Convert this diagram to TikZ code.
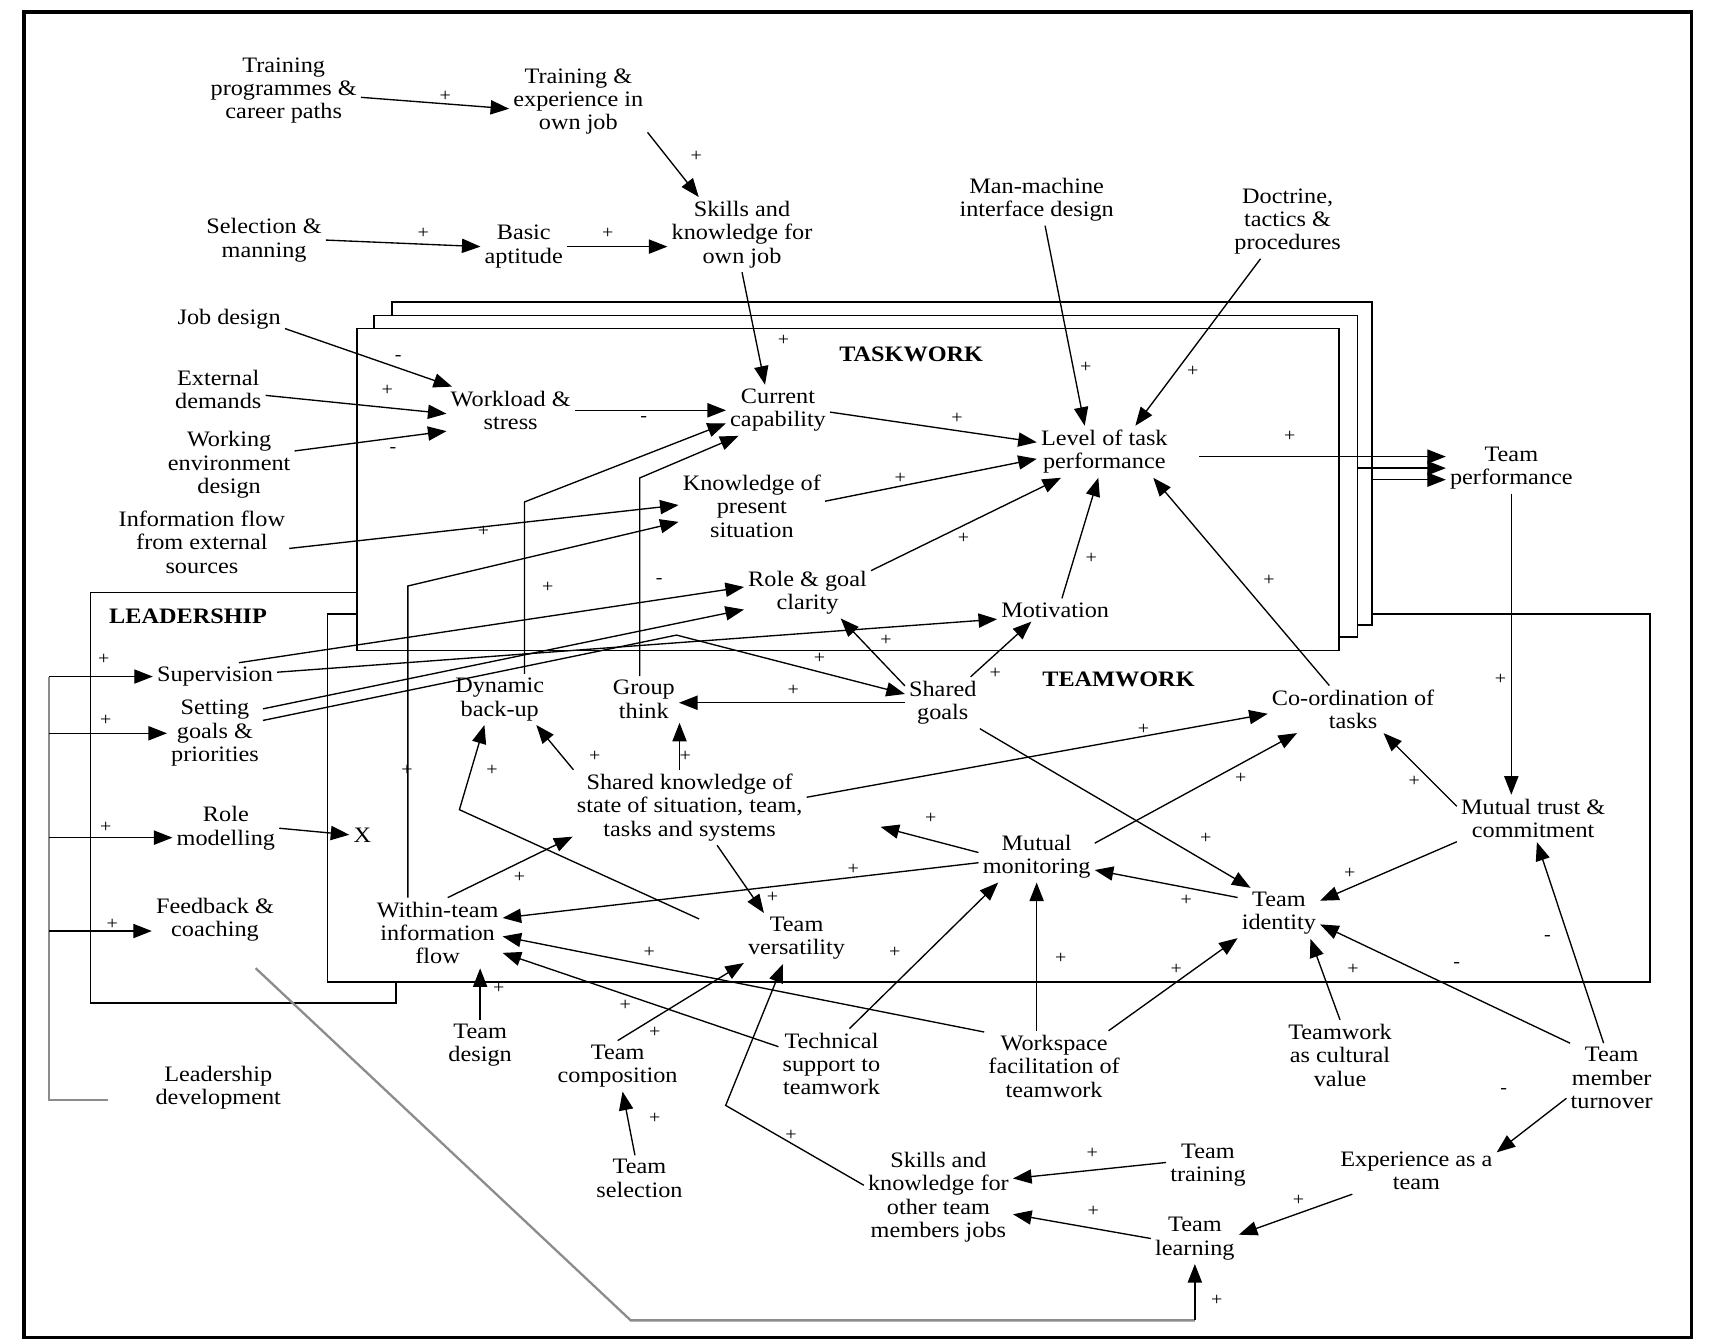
\documentclass[tikz,border=0pt]{standalone}
\usepackage{fontspec}
\setmainfont{Liberation Serif}[FakeStretch=1.1]
\usetikzlibrary{arrows.meta}
\newcommand{\nodefont}{\fontsize{11.5}{12.2}\selectfont}

\begin{document}
\begin{tikzpicture}[x=0.02cm, y=-0.02cm,
    lbl/.style={align=center, inner sep=2pt, font=\nodefont},
    head/.style={font=\nodefont\bfseries, inner sep=1pt},
    sgn/.style={font=\fontsize{9.5}{9.5}\selectfont, inner sep=0pt},
    arr/.style={-{Triangle[length=0.34cm,width=0.26cm]}, line width=0.7pt},
    gline/.style={draw=black!45, line width=1.2pt},
    box/.style={draw, line width=0.9pt, fill=white}]
    \useasboundingbox (0,0) rectangle (1568,1231);

    % Frames
    \draw[box] (83,543) rectangle (363,919);
    \draw[box] (300,563) rectangle (1512,900);
    \draw[box] (359,277) rectangle (1257,573);
    \draw[box] (343,289) rectangle (1244,584);
    \draw[box] (327,301) rectangle (1227,596);
    \draw[line width=1.6pt] (22,11) rectangle (1550,1226);
    \coordinate (twmid) at (1244,432);
    \coordinate (twback) at (1257,444);
    \coordinate (lbar) at (45,620);
    \coordinate (fbend) at (578,1210);
    \coordinate (wbend) at (365,537);
    \coordinate (dbend) at (488,460);
    \coordinate (gbend) at (583,438);
    \coordinate (sbend) at (620,582);
    \coordinate (vbend) at (421,742);
    \coordinate (kbend) at (665,1013);

    % Headings
    \node[head, anchor=west] (hlead) at (98,565) {LEADERSHIP};
    \node[head] (htask) at (835,325) {TASKWORK};
    \node[head] (hteam) at (1025,623) {TEAMWORK};

    % Factors
    \node[lbl] (tprog) at (260,83) {Training\\programmes \&\\career paths};
    \node[lbl] (texp) at (530,93) {Training \&\\experience in\\own job};
    \node[lbl] (skown) at (680,215) {Skills and\\knowledge for\\own job};
    \node[lbl] (selman) at (242,220) {Selection \&\\manning};
    \node[lbl] (basic) at (480,226) {Basic\\aptitude};
    \node[lbl] (mmi) at (950,183) {Man-machine\\interface design};
    \node[lbl] (doct) at (1180,203) {Doctrine,\\tactics \&\\procedures};
    \node[lbl] (jobd) at (210,293) {Job design};
    \node[lbl] (extd) at (200,357) {External\\demands};
    \node[lbl] (wload) at (468,376) {Workload \&\\stress};
    \node[lbl] (curcap) at (713,376) {Current\\capability};
    \node[lbl] (wenv) at (210,426) {Working\\environment\\design};
    \node[lbl] (ltask) at (1012,414) {Level of task\\performance};
    \node[lbl] (tperf) at (1385,429) {Team\\performance};
    \node[lbl] (infext) at (185,497) {Information flow\\from external\\sources};
    \node[lbl] (know) at (689,464) {Knowledge of\\present\\situation};
    \node[lbl] (role) at (740,543) {Role \& goal\\clarity};
    \node[lbl] (motiv) at (967,559) {Motivation};
    \node[lbl] (sup) at (197,620) {Supervision};
    \node[lbl] (setg) at (197,672) {Setting\\goals \&\\priorities};
    \node[lbl] (dyn) at (458,641) {Dynamic\\back-up};
    \node[lbl] (gthink) at (590,641) {Group\\think};
    \node[lbl] (sgoals) at (864,644) {Shared\\goals};
    \node[lbl] (coord) at (1240,650) {Co-ordination of\\tasks};
    \node[lbl] (shk) at (632,740) {Shared knowledge of\\state of situation, team,\\tasks and systems};
    \node[lbl] (rolem) at (207,759) {Role\\modelling};
    \node[lbl] (xnode) at (332,765) {X};
    \node[lbl] (mmon) at (950,785) {Mutual\\monitoring};
    \node[lbl] (mtrust) at (1405,750) {Mutual trust \&\\commitment};
    \node[lbl] (feed) at (197,843) {Feedback \&\\coaching};
    \node[lbl] (wtif) at (401,855) {Within-team\\information\\flow};
    \node[lbl] (tvers) at (730,860) {Team\\versatility};
    \node[lbl] (tid) at (1172,837) {Team\\identity};
    \node[lbl] (tdes) at (440,958) {Team\\design};
    \node[lbl] (tcomp) at (566,977) {Team\\composition};
    \node[lbl] (tsup) at (762,975) {Technical\\support to\\teamwork};
    \node[lbl] (wsp) at (966,977) {Workspace\\facilitation of\\teamwork};
    \node[lbl] (tcult) at (1228,967) {Teamwork\\as cultural\\value};
    \node[lbl] (tturn) at (1477,988) {Team\\member\\turnover};
    \node[lbl] (ldev) at (200,997) {Leadership\\development};
    \node[lbl] (tsel) at (586,1080) {Team\\selection};
    \node[lbl] (skoth) at (860,1097) {Skills and\\knowledge for\\other team\\members jobs};
    \node[lbl] (ttrain) at (1107,1068) {Team\\training};
    \node[lbl] (expt) at (1298,1073) {Experience as a\\team};
    \node[lbl] (tlearn) at (1095,1135) {Team\\learning};

    % Taskwork links
    \draw[arr] (tprog.-5) -- (texp.186);
    \draw[arr] (texp.-24) -- (skown.139);
    \draw[arr] (selman.east) -- (basic.west);
    \draw[arr] (basic.east) -- (skown.west |- basic.east);
    \draw[arr] (skown.south) -- (curcap.117);
    \draw[arr] (jobd.-9) -- (wload.158);
    \draw[arr] (extd.-7) -- (wload.183);
    \draw[arr] (wenv.12) -- (wload.198);
    \draw[arr] (wload.east) -- (curcap.west);
    \draw[arr] (curcap.-2) -- (ltask.172);
    \draw[arr] (mmi.-72) -- (ltask.127);
    \draw[arr] (doct.234) -- (ltask.40);
    \draw[arr] (know.4) -- (ltask.186);
    \draw[arr] (role.19) -- (ltask.211);
    \draw[arr] (motiv.60) -- (ltask.257);
    \draw[arr] (coord.135) -- (ltask.-28);
    \draw[arr, shorten <=0.5cm] (ltask.east |- tperf.170) -- (tperf.170);
    \draw[arr] (twmid |- tperf.west) -- (tperf.west);
    \draw[arr] (twback |- tperf.190) -- (tperf.190);
    \draw[arr] (tperf.south) -- (tperf.south |- mtrust.north);
    \draw[arr] (infext.-4) -- (know.179);
    \draw[arr] (wtif.130) -- (wtif.130 |- wbend) -- (know.192);
    \draw[arr] (dyn.46) -- (dyn.46 |- dbend) -- (curcap.194);
    \draw[arr] (gthink.100) -- (gthink.100 |- gbend) -- (curcap.213);

    % Leadership links
    \draw[gline, shorten <=0.8cm] (ldev.190) -- (lbar |- ldev.190) -- (lbar);
    \draw[arr] (lbar) -- (sup.west);
    \draw[arr] (lbar |- setg.west) -- (setg.west);
    \draw[arr] (lbar |- rolem.190) -- (rolem.190);
    \draw[arr] (lbar |- feed.190) -- (feed.190);
    \draw[arr] (rolem.east) -- (xnode.west);
    \draw[arr] (sup.30) -- (role.175);
    \draw[arr] (sup.4) -- (motiv.189);
    \draw[arr] (setg.27) -- (role.195);
    \draw[arr] (setg.15) -- (sbend) -- (sgoals.167);
    \draw[gline, shorten <=0.6cm] (feed.-57) -- (fbend) -- (fbend -| tlearn.south);
    \draw[arr] (fbend -| tlearn.south) -- (tlearn.south);

    % Teamwork links
    \draw[arr] (sgoals.west) -- (sgoals.west -| gthink.east);
    \draw[arr] (sgoals.156) -- (role.-38);
    \draw[arr] (sgoals.43) -- (motiv.206);
    \draw[arr] (sgoals.-35) -- (tid.138);
    \draw[arr] (shk.162) -- (dyn.-35);
    \draw[arr] (shk.105) -- (shk.105 |- gthink.south);
    \draw[arr] (shk.5) -- (coord.183);
    \draw[arr] (wtif.74) -- (shk.194);
    \draw[arr, shorten <=0.9cm] (tvers.181) -- (vbend) -- (dyn.239);
    \draw[arr, shorten >=1.4cm] (mmon.176) -- (shk.east);
    \draw[arr] (mmon.186) -- (wtif.13);
    \draw[arr] (mmon.13) -- (coord.203);
    \draw[arr] (shk.-54) -- (tvers.142);
    \draw[arr] (tid.159) -- (mmon.-13);
    \draw[arr] (mtrust.171) -- (coord.-38);
    \draw[arr] (mtrust.197) -- (tid.17);
    \draw[arr] (wsp.north -| mmon.south) -- (mmon.south);
    \draw[arr] (tsup.63) -- (mmon.214);
    \draw[arr] (wsp.33) -- (tid.211);
    \draw[arr] (tcult.north) -- (tid.-39);
    \draw[arr] (tturn.140) -- (tid.-15);
    \draw[arr] (tturn.103) -- (mtrust.-81);
    \draw[arr] (tturn.204) -- (expt.13);
    \draw[arr] (expt.200) -- (tlearn.5);
    \draw[arr] (ttrain.176) -- (skoth.14);
    \draw[arr] (tlearn.180) -- (skoth.-13);
    \draw[arr] (skoth.171) -- (kbend) -- (tvers.242);
    \draw[arr] (tcomp.north) -- (tvers.205);
    \draw[arr] (tdes.north) -- (tdes.north |- wtif.south);
    \draw[arr] (tsup.162) -- (wtif.-17);
    \draw[arr] (wsp.154) -- (wtif.-3);
    \draw[arr] (tsel) -- (tcomp);

    % Signs
    \foreach \x/\y/\s [count=\i] in {408/88/+, 638/143/+, 388/214/+, 557/214/+,
        718/312/+, 365/328/-, 355/358/+, 360/412/-, 590/384/-, 877/383/+,
        995/337/+, 1093/340/+, 825/438/+, 883/493/+, 1000/512/+, 1163/532/+,
        1182/400/+, 1375/623/+, 443/487/+, 373/706/+, 502/538/+, 604/532/-,
        751/603/+, 812/587/+, 727/633/+, 912/617/+, 1105/768/+, 545/693/+,
        628/693/+, 1048/668/+, 476/804/+, 451/706/+, 853/750/+, 782/797/+,
        1137/713/+, 708/822/+, 1087/825/+, 1296/716/+, 1237/800/+, 972/878/+,
        820/873/+, 1078/888/+, 1240/888/+, 1335/884/-, 1418/860/-, 1378/1000/-,
        1190/1100/+, 1001/1057/+, 1002/1110/+, 725/1040/+, 600/946/+, 457/906/+,
        573/921/+, 595/873/+, 600/1025/+, 1115/1192/+, 95/604/+, 97/660/+,
        97/758/+, 103/847/+}
        \node[sgn] (s\i) at (\x,\y) {\s};
\end{tikzpicture}
\end{document}
